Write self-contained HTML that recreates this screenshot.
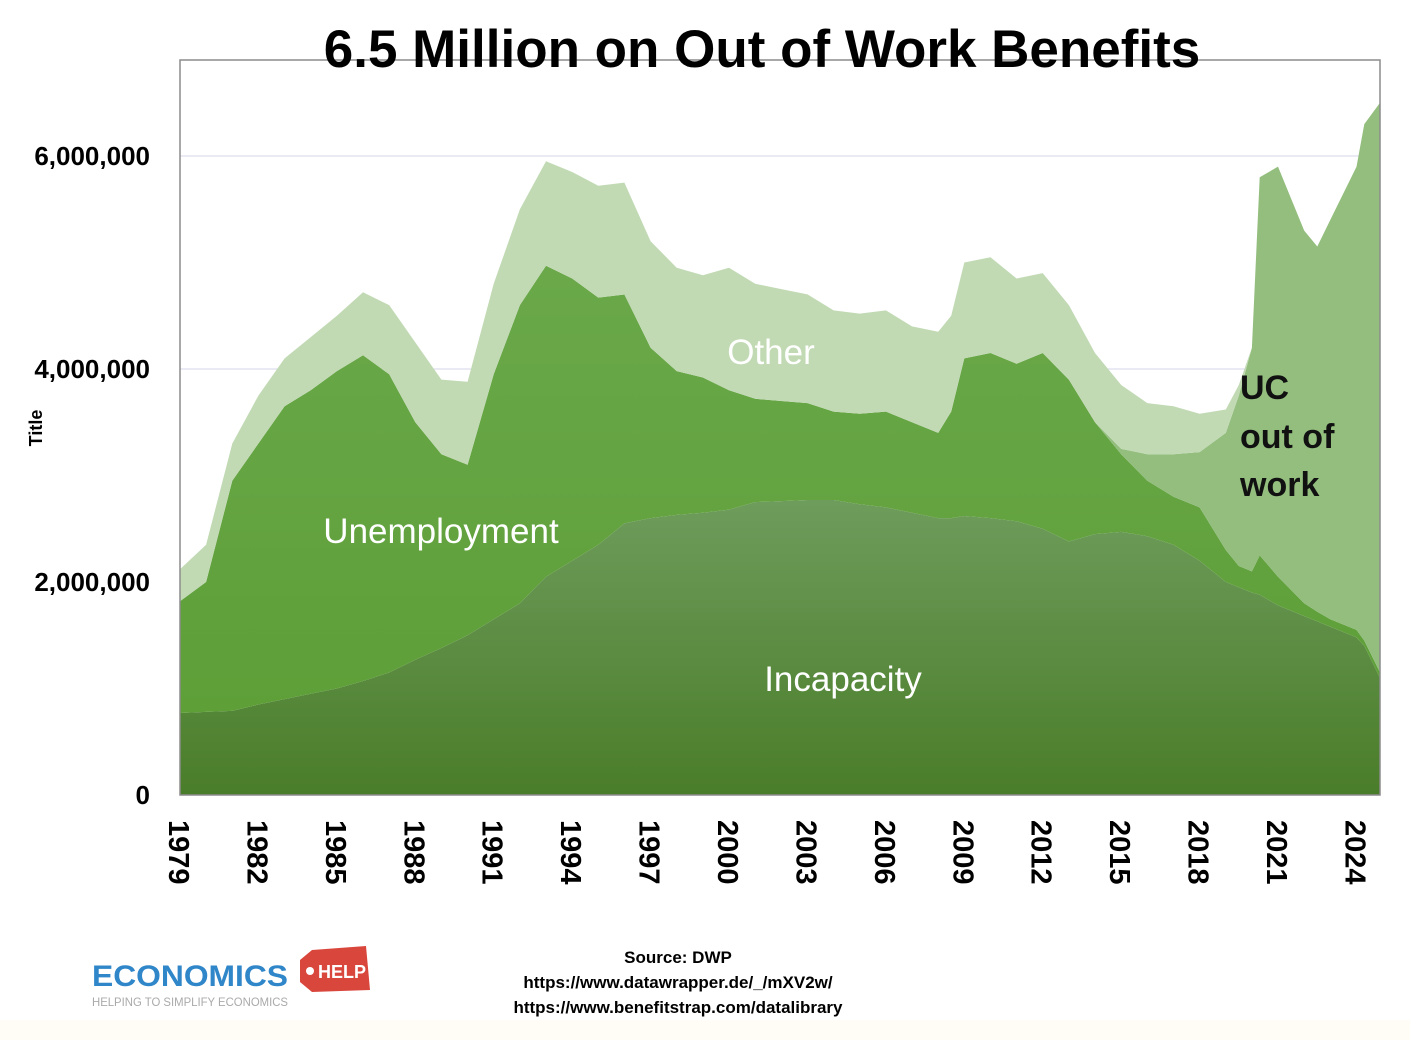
<!DOCTYPE html>
<html><head><meta charset="utf-8"><style>
body{margin:0;background:#fff;}
svg{display:block;font-family:"Liberation Sans",sans-serif;}
</style></head><body>
<svg id="c" width="1410" height="1040" viewBox="0 0 1410 1040">
<defs>
<linearGradient id="gInc" x1="0" y1="0" x2="0" y2="1"><stop offset="0" stop-color="#6e9c5c"/><stop offset="1" stop-color="#4a7d29"/></linearGradient>
<linearGradient id="gUne" x1="0" y1="0" x2="0" y2="1"><stop offset="0" stop-color="#6aa84a"/><stop offset="1" stop-color="#5e9f38"/></linearGradient>
</defs>
<rect x="0" y="0" width="1410" height="1040" fill="#fff"/>
<rect x="0" y="1020" width="1410" height="20" fill="#fffdf6"/>
<g id="grid"></g>
<g id="areas"></g>
<rect x="180" y="60" width="1200" height="735" fill="none" stroke="#8c8c8c" stroke-width="1.5"/>
<g id="yticks"></g>
<g id="xticks"></g>
<text x="762" y="67" text-anchor="middle" font-size="53" font-weight="bold" fill="#000">6.5 Million on Out of Work Benefits</text>
<text transform="translate(42,428) rotate(-90)" text-anchor="middle" font-size="18" font-weight="bold">Title</text>
<text x="441" y="543" text-anchor="middle" font-size="35" fill="#fff">Unemployment</text>
<text x="771" y="364" text-anchor="middle" font-size="35" fill="#fff">Other</text>
<text x="843" y="691" text-anchor="middle" font-size="35" fill="#fff">Incapacity</text>
<g font-size="34" font-weight="bold" fill="#111">
<text x="1240" y="399">UC</text><text x="1240" y="448">out of</text><text x="1240" y="496">work</text></g>
<g font-size="17" font-weight="bold" text-anchor="middle">
<text x="678" y="963">Source: DWP</text>
<text x="678" y="988">https://www.datawrapper.de/_/mXV2w/</text>
<text x="678" y="1013">https://www.benefitstrap.com/datalibrary</text></g>
<g>
<text x="92" y="986" font-size="30" font-weight="bold" fill="#2f86c8" textLength="196" lengthAdjust="spacingAndGlyphs">ECONOMICS</text>
<path d="M300 960 L312 950 L366 946 L370 990 L312 992 L300 982 Z" fill="#d9463c"/>
<circle cx="310" cy="971" r="4" fill="#fff"/>
<text x="318" y="978" font-size="18" font-weight="bold" fill="#fff">HELP</text>
<text x="92" y="1006" font-size="12" fill="#aaa" textLength="196" lengthAdjust="spacingAndGlyphs">HELPING TO SIMPLIFY ECONOMICS</text></g>
</svg>
<script>
const years=[1979,1980,1981,1982,1983,1984,1985,1986,1987,1988,1989,1990,1991,1992,1993,1994,1995,1996,1997,1998,1999,2000,2001,2002,2003,2004,2005,2006,2007,2008,2008.5,2009,2010,2011,2012,2013,2014,2015,2016,2017,2018,2019,2019.5,2020,2020.3,2021,2022,2022.5,2023,2024,2024.3,2024.9];
const incapacity=[0.77,0.78,0.79,0.85,0.9,0.95,1.0,1.07,1.15,1.27,1.38,1.5,1.65,1.8,2.05,2.2,2.35,2.55,2.6,2.63,2.65,2.68,2.75,2.76,2.77,2.77,2.73,2.7,2.65,2.6,2.6,2.62,2.6,2.57,2.5,2.38,2.45,2.47,2.43,2.35,2.2,2.0,1.95,1.9,1.88,1.78,1.68,1.63,1.58,1.48,1.4,1.1];
const unemployment=[1.05,1.22,2.16,2.45,2.75,2.85,2.98,3.06,2.8,2.23,1.82,1.6,2.3,2.8,2.92,2.65,2.32,2.15,1.6,1.35,1.27,1.12,0.97,0.94,0.91,0.83,0.85,0.9,0.85,0.8,1.0,1.48,1.55,1.48,1.65,1.52,1.05,0.73,0.52,0.45,0.5,0.3,0.2,0.2,0.37,0.27,0.12,0.09,0.07,0.07,0.05,0.05];
const ucOutOfWork=[0,0,0,0,0,0,0,0,0,0,0,0,0,0,0,0,0,0,0,0,0,0,0,0,0,0,0,0,0,0,0,0,0,0,0,0,0,0.05,0.25,0.4,0.52,1.1,1.6,2.1,3.55,3.85,3.5,3.43,3.75,4.35,4.85,5.35];
const other=[0.3,0.35,0.35,0.45,0.45,0.5,0.52,0.59,0.65,0.75,0.7,0.78,0.85,0.9,0.98,1.0,1.05,1.05,1.0,0.97,0.96,1.15,1.08,1.05,1.02,0.95,0.94,0.95,0.9,0.95,0.9,0.9,0.9,0.8,0.75,0.7,0.65,0.6,0.48,0.45,0.36,0.22,0.1,0,0,0,0,0,0,0,0,0];
const yTickValues=[0,2000000,4000000,6000000];
const yTickLabels=["0","2,000,000","4,000,000","6,000,000"];
const xTickYears=[1979,1982,1985,1988,1991,1994,1997,2000,2003,2006,2009,2012,2015,2018,2021,2024];

const NS="http://www.w3.org/2000/svg";
const xS=y=>180+(y-1979)*(1200/(2024.9-1979));
const yS=v=>795-v/1e6*106.5;
const mk=(t,a)=>{const e=document.createElementNS(NS,t);for(const k in a)e.setAttribute(k,a[k]);return e;};
const grid=document.getElementById('grid');
yTickValues.forEach((v,i)=>{
  if(v>0){const l=mk('line',{x1:180,x2:1380,y1:yS(v),y2:yS(v),stroke:'#d4d4ea','stroke-width':1});
  
  
  grid.appendChild(l);}
  const t=mk('text',{x:150,y:yS(v)+9,'text-anchor':'end','font-size':26,'font-weight':'bold'});
  t.textContent=yTickLabels[i];
  
  
  document.getElementById('yticks').appendChild(t);
});
const series=[[incapacity,'url(#gInc)','area-incapacity'],[unemployment,'url(#gUne)','area-unemployment'],[ucOutOfWork,'#93be7e','area-uc-out-of-work'],[other,'#c1dab4','area-other']];
let base=years.map(()=>0);
const areas=document.getElementById('areas');
series.forEach(([vals,fill,name])=>{
  const top=base.map((b,i)=>b+vals[i]);
  let d='M'+years.map((y,i)=>xS(y).toFixed(1)+','+yS(top[i]*1e6).toFixed(1)).join('L');
  for(let i=years.length-1;i>=0;i--)d+='L'+xS(years[i]).toFixed(1)+','+yS(base[i]*1e6).toFixed(1);
  const p=mk('path',{d:d+'Z',fill:fill});
  
  
  areas.appendChild(p);
  base=top;
});
xTickYears.forEach(y=>{
  const t=mk('text',{transform:`translate(${xS(y)-11},820) rotate(90)`,'font-size':29,'font-weight':'bold'});
  t.textContent=y;
  
  
  document.getElementById('xticks').appendChild(t);
});
</script>
</body></html>
